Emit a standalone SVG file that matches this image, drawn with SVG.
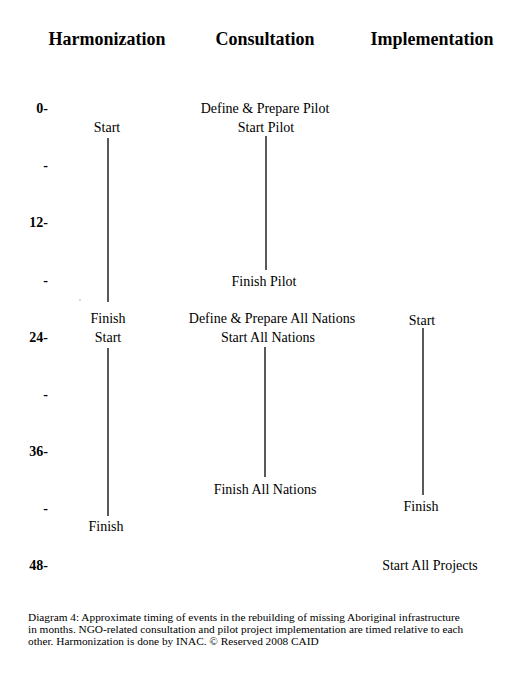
<svg xmlns="http://www.w3.org/2000/svg" width="525" height="675" viewBox="0 0 525 675">
<style>
.h{font-family:"Liberation Serif",serif;font-weight:bold;font-size:18px;fill:#000;text-anchor:middle}
.ax{font-family:"Liberation Serif",serif;font-weight:bold;font-size:14px;fill:#000;text-anchor:end}
.t{font-family:"Liberation Serif",serif;font-size:14px;fill:#000;text-anchor:middle}
.c{font-family:"Liberation Serif",serif;font-size:11.3px;fill:#000}
.ln{stroke:#000;stroke-width:1.3;fill:none}
</style>
<rect width="525" height="675" fill="#fff"/>
<g id="headers">
<text class="h" x="107" y="45">Harmonization</text>
<text class="h" x="265" y="45">Consultation</text>
<text class="h" x="432" y="45">Implementation</text>
</g>
<g id="axis">
<text class="ax" x="48" y="113">0-</text>
<text class="ax" x="48" y="170">-</text>
<text class="ax" x="48" y="227">12-</text>
<text class="ax" x="48" y="285">-</text>
<text class="ax" x="48" y="342">24-</text>
<text class="ax" x="48" y="399">-</text>
<text class="ax" x="48" y="456">36-</text>
<text class="ax" x="48" y="513">-</text>
<text class="ax" x="48" y="570">48-</text>
</g>
<g id="connectors">
<line class="ln" x1="108" y1="138" x2="108" y2="302"/>
<line class="ln" x1="108" y1="348" x2="108" y2="516"/>
<line class="ln" x1="266" y1="136" x2="266" y2="270"/>
<line class="ln" x1="265" y1="347" x2="265" y2="477"/>
<line class="ln" x1="423" y1="328" x2="423" y2="495"/>
</g>
<g id="harm-start1"><text class="t" x="107" y="132">Start</text></g>
<g id="harm-finish1"><text class="t" x="108" y="323">Finish</text></g>
<g id="harm-start2"><text class="t" x="108" y="342">Start</text></g>
<g id="harm-finish2"><text class="t" x="106" y="531">Finish</text></g>
<g id="cons-define-pilot"><text class="t" x="265" y="113">Define &amp; Prepare Pilot</text></g>
<g id="cons-start-pilot"><text class="t" x="266" y="132">Start Pilot</text></g>
<g id="cons-finish-pilot"><text class="t" x="264" y="286">Finish Pilot</text></g>
<g id="cons-define-all"><text class="t" x="272" y="323">Define &amp; Prepare All Nations</text></g>
<g id="cons-start-all"><text class="t" x="268" y="342">Start All Nations</text></g>
<g id="cons-finish-all"><text class="t" x="265" y="494">Finish All Nations</text></g>
<g id="impl-start"><text class="t" x="422" y="325">Start</text></g>
<g id="impl-finish"><text class="t" x="421" y="511">Finish</text></g>
<g id="impl-start-all"><text class="t" x="430" y="570">Start All Projects</text></g>
<circle cx="80" cy="300" r="0.6" fill="#555"/>
<g id="caption">
<text class="c" x="28" y="621">Diagram 4: Approximate timing of events in the rebuilding of missing Aboriginal infrastructure</text>
<text class="c" x="28" y="633">in months. NGO-related consultation and pilot project implementation are timed relative to each</text>
<text class="c" x="28" y="645">other. Harmonization is done by INAC. © Reserved 2008 CAID</text>
</g>
</svg>
